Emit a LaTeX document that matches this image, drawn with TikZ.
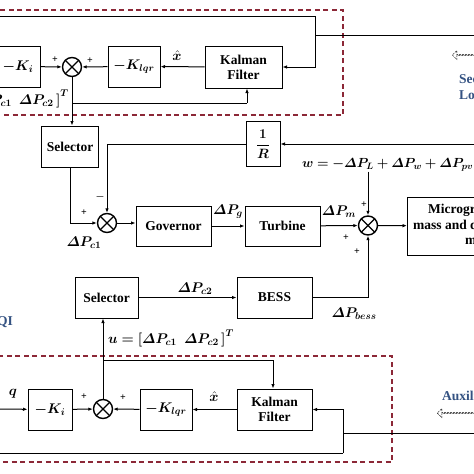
\RequirePackage{fix-cm}
\documentclass[tikz,border=0pt]{standalone}
\usepackage{amsmath,bm}
\usepackage{fontspec}
\setmainfont{Liberation Serif}
\usetikzlibrary{arrows.meta,shapes.arrows,calc}
\definecolor{dashred}{RGB}{140,40,55}
\definecolor{navyb}{RGB}{52,82,130}
\tikzset{
  blk/.style={draw, rectangle, line width=1pt, font=\fontsize{13.5}{15}\selectfont\bfseries, align=center, inner sep=0pt},
  sumnode/.style={draw, circle, line width=1.4pt, minimum size=19pt, inner sep=0pt,
    path picture={\draw[line width=1.3pt] (path picture bounding box.north west)--(path picture bounding box.south east)
      (path picture bounding box.north east)--(path picture bounding box.south west);}},
  conn/.style={line width=1pt, -{Latex[length=4.5pt,width=3.5pt]}},
  wire/.style={line width=1pt},
  redbox/.style={draw=dashred, line width=1.1pt, dash pattern=on 5pt off 3.5pt},
  sg/.style={font=\fontsize{10}{11}\selectfont\bfseries, inner sep=0pt},
  lbl/.style={font=\fontsize{14}{15}\selectfont, inner sep=0pt},
  bluet/.style={text=navyb, font=\fontsize{13.5}{16}\selectfont\bfseries, inner sep=0pt, align=left},
  darrow/.style={single arrow, draw, line width=0.5pt, dash pattern=on 2pt off 1pt, shape border rotate=180,
    minimum height=40pt, minimum width=9pt, single arrow head extend=2pt, inner sep=0pt, anchor=tip}
}
\begin{document}
\begin{tikzpicture}[x=1pt,y=-1pt]
\useasboundingbox (0,0) rectangle (474,474);
\clip (0,0) rectangle (474,474);
% ---------- upper loop ----------
\draw[redbox] (-10,10) rectangle (343,115);
\node[blk, font=\fontsize{14}{15}\selectfont, minimum width=44pt, minimum height=41pt] (ki1) at (18,66.5) {$\bm{-K_i}$};
\node[sumnode] (s1) at (72,67) {};
\node[blk, font=\fontsize{14}{15}\selectfont, minimum width=52pt, minimum height=41pt] (kq1) at (134,66.5) {$\bm{-K_{lqr}}$};
\node[blk, minimum width=77pt, minimum height=42pt] (kf1) at (243.5,67) {Kalman\\Filter};
\draw[conn] (ki1) -- (s1);
\draw[conn] (kq1) -- (s1);
\draw[conn] (kf1) -- (kq1);
\node[lbl] (xh1) at (177,56) {$\bm{\hat{x}}$};
\node[sg] (p1) at (55,60) {+};
\node[sg] (p2) at (90,61) {+};
\coordinate (tl) at (-10,16);
\coordinate (tr) at (315,16);
\coordinate (tj) at (315,35);
\coordinate (se1) at (474,35);
\draw[wire] (tl) -- (tr);
\draw[conn] (tr) |- (kf1.east);
\draw[wire] (se1) -- (tj);
\node[blk, minimum width=57pt, minimum height=41pt] (sel1) at (70,146.5) {Selector};
\coordinate (j1) at (72,103);
\coordinate (j1r) at (247,103);
\draw[conn] (s1) -- (s1 |- sel1.north);
\draw[wire] (j1) -- (j1r);
\draw[conn] (j1r) -- (j1r |- kf1.south);
\node[lbl, anchor=base east] (u1) at (69,104) {$\bm{u = [\varDelta P_{c1}\ \ \varDelta P_{c2}\,]^T}$};
% ---------- middle ----------
\node[sumnode] (s2) at (107,223) {};
\draw[conn] (sel1) |- (s2);
\node[sg] (p3) at (84,213) {+};
\node[sg] (m1) at (100,197) {$\bm{-}$};
\node[lbl] (dpc1) at (84,243) {$\bm{\varDelta P_{c1}}$};
\node[blk, minimum width=34pt, minimum height=45pt] (rr) at (263,144) {$\bm{\dfrac{1}{R}}$};
\coordinate (fr) at (474,144);
\draw[conn] (fr) -- (rr);
\draw[conn] (rr) -| (s2);
\node[blk, minimum width=75pt, minimum height=40pt] (gov) at (173.5,226) {Governor};
\node[blk, minimum width=75pt, minimum height=40pt] (tur) at (282.5,226) {Turbine};
\node[sumnode] (s3) at (368,225.5) {};
\node[blk, minimum width=153pt, minimum height=58pt, anchor=west] (mg) at (407,226) {};
\node[font=\fontsize{13.5}{15.5}\selectfont\bfseries, anchor=north west, align=left, inner sep=0pt] (mgt) at (413,204)
  {\hspace*{15pt}Microgrid system\\mass and damping\\\hspace*{52pt}model};
\draw[conn] (s2.east) -- (s2.east -| gov.west);
\draw[conn] (gov) -- (tur);
\draw[conn] (tur) -- (s3);
\draw[conn] (s3) -- (mg);
\node[lbl] (dpg) at (228,212) {$\bm{\varDelta P_g}$};
\node[lbl] (dpm) at (339,212) {$\bm{\varDelta P_m}$};
\node[lbl, font=\fontsize{13.2}{15}\selectfont, anchor=west] (w) at (302,165) {$\bm{w = -\varDelta P_L + \varDelta P_w + \varDelta P_{pv}}$};
\draw[conn] (w.south -| s3) -- (s3);
\node[sg] (p4) at (364,205) {+};
\node[sg] (p5) at (346,238) {+};
\node[sg] (p6) at (357,252) {+};
% ---------- lower ----------
\node[blk, minimum width=63pt, minimum height=41pt] (sel2) at (106.5,297.5) {Selector};
\node[blk, minimum width=75pt, minimum height=41pt] (bess) at (274.5,297.5) {BESS};
\draw[conn] (sel2) -- (bess);
\node[lbl] (dpc2) at (195,289) {$\bm{\varDelta P_{c2}}$};
\draw[conn] (bess) -| (s3);
\node[lbl] (dpb) at (354,314) {$\bm{\varDelta P_{bess}}$};
\node[lbl, anchor=west] (u2) at (108,338) {$\bm{u = [\varDelta P_{c1}\ \ \varDelta P_{c2}\,]^T}$};
\draw[redbox] (-10,356) rectangle (392,462);
\node[blk, font=\fontsize{14}{15}\selectfont, minimum width=44pt, minimum height=41pt] (ki2) at (50,409.5) {$\bm{-K_i}$};
\node[sumnode] (s4) at (103,409) {};
\node[blk, font=\fontsize{14}{15}\selectfont, minimum width=52pt, minimum height=41pt] (kq2) at (166,409.5) {$\bm{-K_{lqr}}$};
\node[blk, minimum width=75pt, minimum height=41pt] (kf2) at (274.5,409.5) {Kalman\\Filter};
\coordinate (qin) at (-5,409);
\draw[conn] (qin) -- (ki2);
\node[lbl] (q) at (13,394) {$\bm{q}$};
\draw[conn] (ki2) -- (s4);
\draw[conn] (kq2) -- (s4);
\draw[conn] (kf2) -- (kq2);
\node[lbl] (xh2) at (214,397) {$\bm{\hat{x}}$};
\node[sg] (p7) at (84,397) {+};
\node[sg] (p8) at (123,398) {+};
\draw[conn] (s4) -- (s4 |- sel2.south);
\coordinate (j2) at (103,360);
\coordinate (j2r) at (273,360);
\draw[wire] (j2) -- (j2r);
\draw[conn] (j2r) -- (j2r |- kf2.north);
\coordinate (bl) at (-10,453);
\coordinate (br) at (343,453);
\coordinate (se2) at (474,433);
\coordinate (bj) at (343,433);
\draw[wire] (bl) -- (br);
\draw[conn] (br) |- (kf2.east);
\draw[wire] (se2) -- (bj);
% ---------- side texts ----------
\node[bluet, anchor=east] (lqi) at (13,322) {LQI};
\node[bluet, anchor=north west] (sec) at (459,74) {Secondary\\Loop};
\node[bluet, anchor=west] (aux) at (442,397) {Auxiliary};
\node[darrow] (da1) at (452,55) {};
\node[darrow] (da2) at (437,413) {};
\end{tikzpicture}
\end{document}
